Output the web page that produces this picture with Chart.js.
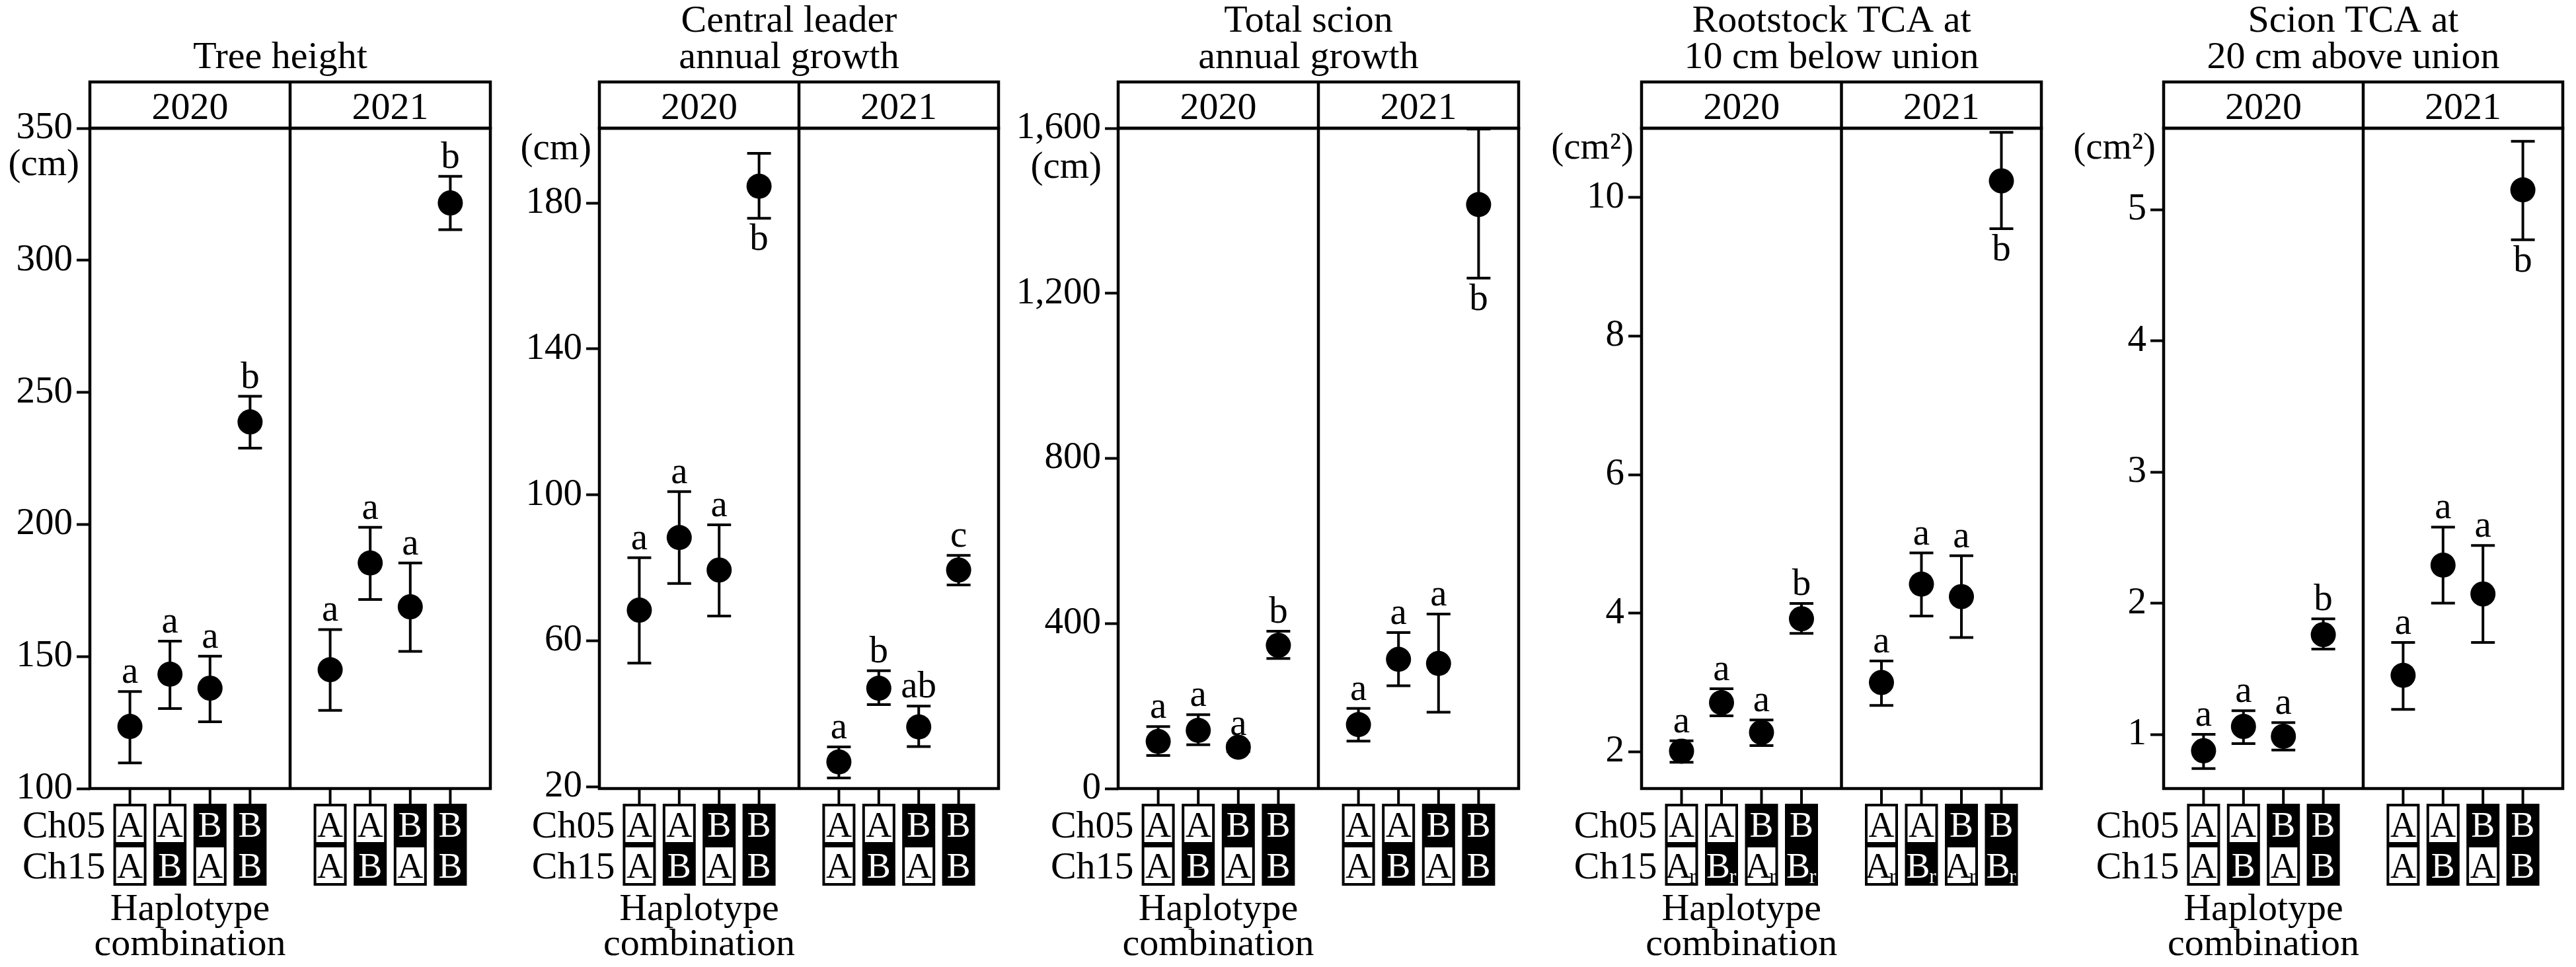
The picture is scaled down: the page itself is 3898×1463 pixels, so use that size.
<!DOCTYPE html>
<html>
<head>
<meta charset="utf-8">
<script src="https://cdn.jsdelivr.net/npm/chart.js@4.4.1/dist/chart.umd.min.js"></script>
<style>
  body { margin: 0; background: #fff; width: 3898px; height: 1463px; overflow: hidden; position: relative; }
  canvas { position: absolute; top: 0; }
  #probe { position: absolute; left: -9999px; top: 0; font: 56px 'Liberation Serif'; }
</style>
</head>
<body>
<div id="probe">Tree height 2020 Ch05</div>
<script>
const FONT = "'Liberation Serif', serif"

// facets and haplotype combinations (4 per year)
const years = ['2020', '2021']
const xPos  = [1, 2, 3, 4, 6, 7, 8, 9]
const ch05  = ['A', 'A', 'B', 'B', 'A', 'A', 'B', 'B']
const ch15  = ['A', 'B', 'A', 'B', 'A', 'B', 'A', 'B']

// Tree height (cm)
const heightMean    = [123.5, 143.3, 138.0, 238.8, 145.0, 185.4, 168.8, 321.7]
const heightHi      = [136.7, 155.8, 150.1, 248.5, 160.2, 198.9, 185.4, 331.8]
const heightLo      = [109.7, 130.3, 125.3, 228.9, 129.6, 171.6, 151.9, 311.6]
const heightLetters = ['a', 'a', 'a', 'b', 'a', 'a', 'a', 'b']
const heightTicks   = [100, 150, 200, 250, 300, 350]

// Central leader annual growth (cm)
const leaderMean    = [68.4, 88.3, 79.4, 184.6, 26.8, 47.0, 36.4, 79.4]
const leaderHi      = [82.8, 100.9, 91.8, 193.6, 30.9, 51.8, 42.1, 83.4]
const leaderLo      = [53.9, 75.7, 66.8, 175.8, 22.4, 42.5, 31.0, 75.3]
const leaderLetters = ['a', 'a', 'a', 'b', 'a', 'b', 'ab', 'c']
const leaderTicks   = [20, 60, 100, 140, 180]

// Total scion annual growth (cm)
const scionMean    = [114, 141, 100, 347, 155, 313, 303, 1415]
const scionHi      = [150, 179, 109, 381, 194, 378, 423, 1598]
const scionLo      = [80, 106, 90, 315, 115, 249, 185, 1237]
const scionLetters = ['a', 'a', 'a', 'b', 'a', 'a', 'a', 'b']
const scionTicks   = [0, 400, 800, 1200, 1600]

// Rootstock TCA at 10 cm below union (cm2)
const rootMean    = [2.01, 2.71, 2.28, 3.92, 3.00, 4.42, 4.24, 10.24]
const rootHi      = [2.16, 2.91, 2.46, 4.14, 3.31, 4.87, 4.83, 10.94]
const rootLo      = [1.85, 2.52, 2.09, 3.71, 2.67, 3.96, 3.65, 9.55]
const rootLetters = ['a', 'a', 'a', 'b', 'a', 'a', 'a', 'b']
const rootTicks   = [2, 4, 6, 8, 10]

// Scion TCA at 20 cm above union (cm2)
const tcaMean    = [0.875, 1.06, 0.985, 1.76, 1.45, 2.29, 2.07, 5.15]
const tcaHi      = [1.00, 1.18, 1.09, 1.88, 1.70, 2.58, 2.44, 5.52]
const tcaLo      = [0.74, 0.93, 0.88, 1.65, 1.19, 2.00, 1.70, 4.77]
const tcaLetters = ['a', 'a', 'a', 'b', 'a', 'a', 'a', 'b']
const tcaTicks   = [1, 2, 3, 4, 5]

const panels = [
  { title: ['Tree height'], unit: '(cm)', unitY: 250, unitDx: 16,
    canvasLeft: 0, frame: [136, 752], yRange: [100, 350], ticks: heightTicks,
    mean: heightMean, hi: heightHi, lo: heightLo, letters: heightLetters, below: [], sub: '' },
  { title: ['Central leader', 'annual growth'], unit: '(cm)', unitY: 226, unitDx: 12,
    canvasLeft: 760, frame: [907, 1521], yRange: [19.5, 200.5], ticks: leaderTicks,
    mean: leaderMean, hi: leaderHi, lo: leaderLo, letters: leaderLetters, below: [3], sub: '' },
  { title: ['Total scion', 'annual growth'], unit: '(cm)', unitY: 254, unitDx: 25,
    canvasLeft: 1530, frame: [1692, 2308], yRange: [0, 1600], ticks: scionTicks,
    mean: scionMean, hi: scionHi, lo: scionLo, letters: scionLetters, below: [7], sub: '' },
  { title: ['Rootstock TCA at', '10 cm below union'], unit: '(cm²)', unitY: 225, unitDx: 12,
    canvasLeft: 2318, frame: [2484, 3099], yRange: [1.47, 11.0], ticks: rootTicks,
    mean: rootMean, hi: rootHi, lo: rootLo, letters: rootLetters, below: [7], sub: 'r' },
  { title: ['Scion TCA at', '20 cm above union'], unit: '(cm²)', unitY: 225, unitDx: 12,
    canvasLeft: 3112, frame: [3274, 3888], yRange: [0.587, 5.62], ticks: tcaTicks,
    mean: tcaMean, hi: tcaHi, lo: tcaLo, letters: tcaLetters, below: [7], sub: '' },
]

function line(ctx, x1, y1, x2, y2) {
  ctx.beginPath()
  ctx.moveTo(x1, y1)
  ctx.lineTo(x2, y2)
  ctx.stroke()
}

function hapBox(ctx, x, y, h, sub) {
  const w = 50, ht = 62
  if (h === 'B') {
    ctx.fillStyle = '#000'
    ctx.fillRect(x - w / 2, y, w, ht)
    ctx.fillStyle = '#fff'
  } else {
    ctx.fillStyle = '#fff'
    ctx.fillRect(x - w / 2, y, w, ht)
    ctx.lineWidth = 4
    ctx.strokeRect(x - w / 2 + 2, y + 2, w - 4, ht - 4)
    ctx.fillStyle = '#000'
  }
  ctx.textAlign = 'center'
  ctx.textBaseline = 'alphabetic'
  ctx.font = `54px ${FONT}`
  if (sub) {
    ctx.fillText(h, x - 5, y + 50)
    ctx.font = `32px ${FONT}`
    ctx.fillText(sub, x + 17, y + 58)
  } else {
    ctx.fillText(h, x, y + 50)
  }
  ctx.fillStyle = '#000'
}

function facetPlugin(p) {
  return {
    id: 'facets',
    beforeDatasetsDraw(chart) {
      const ctx = chart.ctx, xs = chart.scales.x, ys = chart.scales.y
      ctx.save()
      ctx.strokeStyle = '#000'
      ctx.lineWidth = 4
      p.mean.forEach((m, i) => {
        const x = xs.getPixelForValue(xPos[i])
        const yh = ys.getPixelForValue(p.hi[i]), yl = ys.getPixelForValue(p.lo[i])
        line(ctx, x, yh, x, yl)
        line(ctx, x - 18, yh, x + 18, yh)
        line(ctx, x - 18, yl, x + 18, yl)
      })
      ctx.restore()
    },
    afterDraw(chart) {
      const ctx = chart.ctx, a = chart.chartArea
      const xs = chart.scales.x, ys = chart.scales.y
      ctx.save()
      ctx.strokeStyle = '#000'
      ctx.fillStyle = '#000'

      // panel frame, facet divider and strip
      ctx.lineWidth = 4.5
      ctx.strokeRect(a.left, a.top, a.right - a.left, a.bottom - a.top)
      ctx.strokeRect(a.left, a.top - 70, a.right - a.left, 70)
      const mid = xs.getPixelForValue(5)
      line(ctx, mid, a.top - 70, mid, a.bottom)

      ctx.font = `58px ${FONT}`
      ctx.textAlign = 'center'
      ctx.textBaseline = 'alphabetic'
      ctx.fillText(years[0], xs.getPixelForValue(2.5), a.top - 14)
      ctx.fillText(years[1], xs.getPixelForValue(7.5), a.top - 14)

      // title
      const cx = (a.left + a.right) / 2 - 15
      const bases = p.title.length === 1 ? [103] : [48, 103]
      p.title.forEach((t, k) => ctx.fillText(t, cx, bases[k]))

      // unit
      ctx.font = `57px ${FONT}`
      ctx.textAlign = 'right'
      ctx.textBaseline = 'middle'
      ctx.fillText(p.unit, a.left - p.unitDx, p.unitY)

      // significance letters
      ctx.textAlign = 'center'
      ctx.textBaseline = 'alphabetic'
      p.letters.forEach((l, i) => {
        const x = xs.getPixelForValue(xPos[i])
        if (p.below.includes(i)) ctx.fillText(l, x, ys.getPixelForValue(p.lo[i]) + 48)
        else ctx.fillText(l, x, ys.getPixelForValue(p.hi[i]) - 13)
      })

      // x ticks and haplotype boxes
      const r1 = a.bottom + 23, r2 = a.bottom + 85
      xPos.forEach((v, i) => {
        const x = xs.getPixelForValue(v)
        ctx.lineWidth = 4
        line(ctx, x, a.bottom, x, r1)
        hapBox(ctx, x, r1, ch05[i], '')
        hapBox(ctx, x, r2, ch15[i], p.sub)
      })

      ctx.font = `58px ${FONT}`
      ctx.textAlign = 'right'
      ctx.textBaseline = 'alphabetic'
      const lx = xs.getPixelForValue(xPos[0]) - 25 - 12
      ctx.fillText('Ch05', lx, r1 + 31 + 20)
      ctx.fillText('Ch15', lx, r2 + 31 + 20)

      ctx.textAlign = 'center'
      const hx = xs.getPixelForValue(2.5)
      ctx.fillText('Haplotype', hx, a.bottom + 199)
      ctx.fillText('combination', hx, a.bottom + 252)
      ctx.restore()
    },
  }
}

function build() {
  panels.forEach(p => {
    const canvas = document.createElement('canvas')
    const W = p.frame[0] - p.canvasLeft
    const width = Math.min(p.frame[1] + 9, 3898) - p.canvasLeft
    canvas.width = width
    canvas.height = 1463
    canvas.style.left = p.canvasLeft + 'px'
    canvas.style.width = width + 'px'
    canvas.style.height = '1463px'
    document.body.appendChild(canvas)

    new Chart(canvas, {
      type: 'scatter',
      data: {
        datasets: [{
          data: p.mean.map((m, i) => ({ x: xPos[i], y: m })),
          pointRadius: 19,
          pointHoverRadius: 19,
          backgroundColor: '#000',
          borderWidth: 0,
        }],
      },
      options: {
        responsive: false,
        animation: false,
        devicePixelRatio: 1,
        layout: { padding: { left: 0, right: width - (p.frame[1] - p.canvasLeft), top: 194, bottom: 270 } },
        plugins: { legend: { display: false }, tooltip: { enabled: false } },
        scales: {
          x: { type: 'linear', display: false, min: 0, max: 10 },
          y: {
            min: p.yRange[0],
            max: p.yRange[1],
            afterBuildTicks: s => { s.ticks = p.ticks.map(v => ({ value: v })) },
            afterFit: s => { s.width = W },
            border: { display: false },
            grid: { drawOnChartArea: false, drawTicks: true, tickLength: 20, tickWidth: 4, tickColor: '#000' },
            ticks: {
              color: '#000',
              padding: 6,
              font: { family: FONT, size: 57 },
              callback: v => v.toLocaleString('en-US'),
            },
          },
        },
      },
      plugins: [facetPlugin(p)],
    })
  })
}

Chart.defaults.font.family = FONT
const ready = document.fonts && document.fonts.load
  ? Promise.all([document.fonts.load("57px 'Liberation Serif'"), document.fonts.ready]).catch(() => {})
  : Promise.resolve()
ready.then(build)
</script>
</body>
</html>
